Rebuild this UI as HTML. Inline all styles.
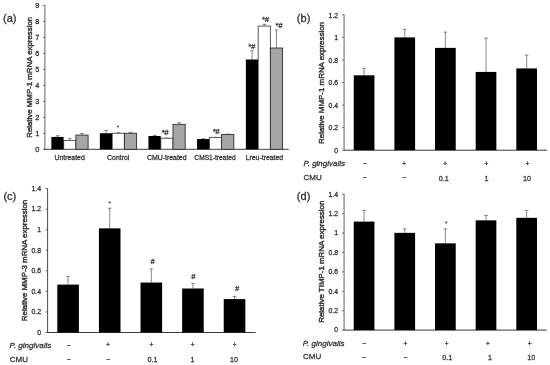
<!DOCTYPE html>
<html lang="en"><head><meta charset="utf-8"><title>Figure</title>
<style>html,body{margin:0;padding:0;background:#fff}body{width:550px;height:365px;overflow:hidden}svg{display:block;filter:blur(0.35px)}text{font-family:'Liberation Sans', Arial, sans-serif;stroke:#303030;stroke-width:0.26px;stroke-linejoin:round}</style>
</head><body>
<svg width="550" height="365" viewBox="0 0 550 365">
<rect width="550" height="365" fill="#fff"/>
<text x="9.70" y="21.50" font-size="11" text-anchor="middle" font-weight="normal" font-style="normal" fill="#303030" style="stroke-width:0.3px">(a)</text>
<text transform="translate(32.00,77.30) rotate(-90)" font-size="8.05" text-anchor="middle" font-weight="normal" fill="#303030" style="stroke-width:0.42px" textLength="121.0" lengthAdjust="spacingAndGlyphs">Relative MMP-1 mRNA expression</text>
<path d="M44.90 5.00V149.30" stroke="#8c8c8c" stroke-width="1.35" fill="none"/>
<path d="M42.90 149.30H44.90" stroke="#3a3a3a" stroke-width="0.7" fill="none"/>
<text x="39.40" y="151.56" font-size="7.4" text-anchor="end" font-weight="normal" font-style="normal" fill="#303030" >0</text>
<path d="M42.90 133.30H44.90" stroke="#3a3a3a" stroke-width="0.7" fill="none"/>
<text x="39.40" y="135.56" font-size="7.4" text-anchor="end" font-weight="normal" font-style="normal" fill="#303030" >1</text>
<path d="M42.90 117.30H44.90" stroke="#3a3a3a" stroke-width="0.7" fill="none"/>
<text x="39.40" y="119.56" font-size="7.4" text-anchor="end" font-weight="normal" font-style="normal" fill="#303030" >2</text>
<path d="M42.90 101.30H44.90" stroke="#3a3a3a" stroke-width="0.7" fill="none"/>
<text x="39.40" y="103.56" font-size="7.4" text-anchor="end" font-weight="normal" font-style="normal" fill="#303030" >3</text>
<path d="M42.90 85.30H44.90" stroke="#3a3a3a" stroke-width="0.7" fill="none"/>
<text x="39.40" y="87.56" font-size="7.4" text-anchor="end" font-weight="normal" font-style="normal" fill="#303030" >4</text>
<path d="M42.90 69.30H44.90" stroke="#3a3a3a" stroke-width="0.7" fill="none"/>
<text x="39.40" y="71.56" font-size="7.4" text-anchor="end" font-weight="normal" font-style="normal" fill="#303030" >5</text>
<path d="M42.90 53.30H44.90" stroke="#3a3a3a" stroke-width="0.7" fill="none"/>
<text x="39.40" y="55.56" font-size="7.4" text-anchor="end" font-weight="normal" font-style="normal" fill="#303030" >6</text>
<path d="M42.90 37.30H44.90" stroke="#3a3a3a" stroke-width="0.7" fill="none"/>
<text x="39.40" y="39.56" font-size="7.4" text-anchor="end" font-weight="normal" font-style="normal" fill="#303030" >7</text>
<path d="M42.90 21.30H44.90" stroke="#3a3a3a" stroke-width="0.7" fill="none"/>
<text x="39.40" y="23.56" font-size="7.4" text-anchor="end" font-weight="normal" font-style="normal" fill="#303030" >8</text>
<path d="M42.90 5.30H44.90" stroke="#3a3a3a" stroke-width="0.7" fill="none"/>
<text x="39.40" y="7.56" font-size="7.4" text-anchor="end" font-weight="normal" font-style="normal" fill="#303030" >9</text>
<path d="M44.00 149.30H288.80" stroke="#3a3a3a" stroke-width="1" fill="none"/>
<path d="M57.60 137.14V135.70M55.80 135.70H59.40" stroke="#555" stroke-width="0.7" fill="none"/>
<path d="M69.80 140.50V138.42M68.00 138.42H71.60" stroke="#555" stroke-width="0.7" fill="none"/>
<path d="M82.00 135.06V133.46M80.20 133.46H83.80" stroke="#555" stroke-width="0.7" fill="none"/>
<rect x="63.70" y="140.50" width="12.20" height="8.80" fill="#fff" stroke="#5a5a5a" stroke-width="1"/>
<rect x="51.35" y="136.94" width="12.25" height="12.36" fill="#000"/>
<rect x="75.90" y="135.06" width="12.20" height="14.24" fill="#a6a6a6" stroke="#2e2e2e" stroke-width="0.9"/>
<path d="M106.10 133.46V130.42M104.30 130.42H107.90" stroke="#555" stroke-width="0.7" fill="none"/>
<path d="M118.30 133.30V132.66M116.50 132.66H120.10" stroke="#555" stroke-width="0.7" fill="none"/>
<path d="M130.50 133.30V132.34M128.70 132.34H132.30" stroke="#555" stroke-width="0.7" fill="none"/>
<rect x="112.20" y="133.30" width="12.20" height="16.00" fill="#fff" stroke="#5a5a5a" stroke-width="1"/>
<rect x="99.85" y="133.26" width="12.25" height="16.04" fill="#000"/>
<rect x="124.40" y="133.30" width="12.20" height="16.00" fill="#a6a6a6" stroke="#2e2e2e" stroke-width="0.9"/>
<path d="M154.70 136.18V135.38M152.90 135.38H156.50" stroke="#555" stroke-width="0.7" fill="none"/>
<path d="M166.90 138.26V138.10M165.10 138.10H168.70" stroke="#555" stroke-width="0.7" fill="none"/>
<path d="M179.10 124.34V122.74M177.30 122.74H180.90" stroke="#555" stroke-width="0.7" fill="none"/>
<rect x="160.80" y="138.26" width="12.20" height="11.04" fill="#fff" stroke="#5a5a5a" stroke-width="1"/>
<rect x="148.45" y="135.98" width="12.25" height="13.32" fill="#000"/>
<rect x="173.00" y="124.34" width="12.20" height="24.96" fill="#a6a6a6" stroke="#2e2e2e" stroke-width="0.9"/>
<path d="M203.30 139.22V138.74M201.50 138.74H205.10" stroke="#555" stroke-width="0.7" fill="none"/>
<path d="M215.50 137.46V137.30M213.70 137.30H217.30" stroke="#555" stroke-width="0.7" fill="none"/>
<path d="M227.70 134.42V134.18M225.90 134.18H229.50" stroke="#555" stroke-width="0.7" fill="none"/>
<rect x="209.40" y="137.46" width="12.20" height="11.84" fill="#fff" stroke="#5a5a5a" stroke-width="1"/>
<rect x="197.05" y="139.02" width="12.25" height="10.28" fill="#000"/>
<rect x="221.60" y="134.42" width="12.20" height="14.88" fill="#a6a6a6" stroke="#2e2e2e" stroke-width="0.9"/>
<path d="M252.10 59.70V50.90M250.30 50.90H253.90" stroke="#555" stroke-width="0.7" fill="none"/>
<path d="M264.30 26.10V24.34M262.50 24.34H266.10" stroke="#555" stroke-width="0.7" fill="none"/>
<path d="M276.50 48.02V29.94M274.70 29.94H278.30" stroke="#555" stroke-width="0.7" fill="none"/>
<rect x="258.20" y="26.10" width="12.20" height="123.20" fill="#fff" stroke="#5a5a5a" stroke-width="1"/>
<rect x="245.85" y="59.50" width="12.25" height="89.80" fill="#000"/>
<rect x="270.40" y="48.02" width="12.20" height="101.28" fill="#a6a6a6" stroke="#2e2e2e" stroke-width="0.9"/>
<text x="69.60" y="159.90" font-size="6.9" text-anchor="middle" font-weight="normal" font-style="normal" fill="#303030" >Untreated</text>
<text x="118.20" y="159.90" font-size="6.9" text-anchor="middle" font-weight="normal" font-style="normal" fill="#303030" >Control</text>
<text x="166.80" y="159.90" font-size="6.9" text-anchor="middle" font-weight="normal" font-style="normal" fill="#303030" >CMU-treated</text>
<text x="215.00" y="159.90" font-size="6.9" text-anchor="middle" font-weight="normal" font-style="normal" fill="#303030" textLength="41.3" lengthAdjust="spacingAndGlyphs">CMS1-treated</text>
<text x="264.40" y="159.90" font-size="6.9" text-anchor="middle" font-weight="normal" font-style="normal" fill="#303030" >Lreu-treated</text>
<text x="118.00" y="129.90" font-size="7.2" text-anchor="middle" font-weight="normal" font-style="normal" fill="#303030" style="stroke-width:0.05px">*</text>
<text x="165.00" y="134.70" font-size="7.6" text-anchor="middle" font-weight="normal" font-style="italic" fill="#303030" >*#</text>
<text x="216.00" y="134.10" font-size="7.6" text-anchor="middle" font-weight="normal" font-style="italic" fill="#303030" >*#</text>
<text x="251.60" y="48.70" font-size="7.6" text-anchor="middle" font-weight="normal" font-style="italic" fill="#303030" >*#</text>
<text x="265.40" y="21.70" font-size="7.6" text-anchor="middle" font-weight="normal" font-style="italic" fill="#303030" >*#</text>
<text x="278.80" y="27.70" font-size="7.6" text-anchor="middle" font-weight="normal" font-style="italic" fill="#303030" >*#</text>
<text x="303.60" y="21.70" font-size="11" text-anchor="middle" font-weight="normal" font-style="normal" fill="#303030" style="stroke-width:0.3px">(b)</text>
<text transform="translate(324.40,83.00) rotate(-90)" font-size="8.05" text-anchor="middle" font-weight="normal" fill="#303030" style="stroke-width:0.42px" textLength="122.0" lengthAdjust="spacingAndGlyphs">Relative MMP-1 mRNA expression</text>
<path d="M344.10 14.54V150.20" stroke="#8c8c8c" stroke-width="1.35" fill="none"/>
<path d="M342.10 150.20H344.10" stroke="#3a3a3a" stroke-width="0.7" fill="none"/>
<text x="338.20" y="152.98" font-size="6.9" text-anchor="end" font-weight="normal" font-style="normal" fill="#303030" >0</text>
<path d="M342.10 127.64H344.10" stroke="#3a3a3a" stroke-width="0.7" fill="none"/>
<text x="338.20" y="130.42" font-size="6.9" text-anchor="end" font-weight="normal" font-style="normal" fill="#303030" >0.2</text>
<path d="M342.10 105.08H344.10" stroke="#3a3a3a" stroke-width="0.7" fill="none"/>
<text x="338.20" y="107.86" font-size="6.9" text-anchor="end" font-weight="normal" font-style="normal" fill="#303030" >0.4</text>
<path d="M342.10 82.52H344.10" stroke="#3a3a3a" stroke-width="0.7" fill="none"/>
<text x="338.20" y="85.30" font-size="6.9" text-anchor="end" font-weight="normal" font-style="normal" fill="#303030" >0.6</text>
<path d="M342.10 59.96H344.10" stroke="#3a3a3a" stroke-width="0.7" fill="none"/>
<text x="338.20" y="62.74" font-size="6.9" text-anchor="end" font-weight="normal" font-style="normal" fill="#303030" >0.8</text>
<path d="M342.10 37.40H344.10" stroke="#3a3a3a" stroke-width="0.7" fill="none"/>
<text x="338.20" y="40.18" font-size="6.9" text-anchor="end" font-weight="normal" font-style="normal" fill="#303030" >1</text>
<path d="M342.10 14.84H344.10" stroke="#3a3a3a" stroke-width="0.7" fill="none"/>
<text x="338.20" y="17.62" font-size="6.9" text-anchor="end" font-weight="normal" font-style="normal" fill="#303030" >1.2</text>
<path d="M343.90 150.20H547.00" stroke="#3a3a3a" stroke-width="1" fill="none"/>
<path d="M364.10 75.30V68.31M362.30 68.31H365.90" stroke="#555" stroke-width="0.7" fill="none"/>
<rect x="353.75" y="75.30" width="20.70" height="74.90" fill="#000"/>
<path d="M404.74 37.40V29.28M402.94 29.28H406.54" stroke="#555" stroke-width="0.7" fill="none"/>
<rect x="394.39" y="37.40" width="20.70" height="112.80" fill="#000"/>
<path d="M445.38 47.89V32.10M443.58 32.10H447.18" stroke="#555" stroke-width="0.7" fill="none"/>
<rect x="435.03" y="47.89" width="20.70" height="102.31" fill="#000"/>
<path d="M486.02 71.92V38.08M484.22 38.08H487.82" stroke="#555" stroke-width="0.7" fill="none"/>
<rect x="475.67" y="71.92" width="20.70" height="78.28" fill="#000"/>
<path d="M526.66 68.42V55.11M524.86 55.11H528.46" stroke="#555" stroke-width="0.7" fill="none"/>
<rect x="516.31" y="68.42" width="20.70" height="81.78" fill="#000"/>
<text x="303.40" y="166.10" font-size="8" text-anchor="start" font-weight="normal" font-style="italic" fill="#303030" >P. gingivalis</text>
<text x="303.60" y="180.00" font-size="8" text-anchor="start" font-weight="normal" font-style="normal" fill="#303030" >CMU</text>
<text x="364.60" y="166.25" font-size="7" text-anchor="middle" font-weight="normal" font-style="normal" fill="#303030" >−</text>
<text x="364.60" y="180.35" font-size="7" text-anchor="middle" font-weight="normal" font-style="normal" fill="#303030" >−</text>
<text x="404.20" y="166.05" font-size="6.5" text-anchor="middle" font-weight="normal" font-style="normal" fill="#303030" >+</text>
<text x="404.20" y="180.35" font-size="7" text-anchor="middle" font-weight="normal" font-style="normal" fill="#303030" >−</text>
<text x="445.20" y="166.05" font-size="6.5" text-anchor="middle" font-weight="normal" font-style="normal" fill="#303030" >+</text>
<text x="443.70" y="180.50" font-size="7.2" text-anchor="middle" font-weight="normal" font-style="normal" fill="#303030" >0.1</text>
<text x="486.50" y="166.05" font-size="6.5" text-anchor="middle" font-weight="normal" font-style="normal" fill="#303030" >+</text>
<text x="486.40" y="180.50" font-size="7.2" text-anchor="middle" font-weight="normal" font-style="normal" fill="#303030" >1</text>
<text x="527.50" y="166.05" font-size="6.5" text-anchor="middle" font-weight="normal" font-style="normal" fill="#303030" >+</text>
<text x="527.10" y="180.50" font-size="7.2" text-anchor="middle" font-weight="normal" font-style="normal" fill="#303030" >10</text>
<text x="9.80" y="199.70" font-size="11" text-anchor="middle" font-weight="normal" font-style="normal" fill="#303030" style="stroke-width:0.3px">(c)</text>
<text transform="translate(27.20,260.50) rotate(-90)" font-size="8.05" text-anchor="middle" font-weight="normal" fill="#303030" style="stroke-width:0.42px" textLength="121.4" lengthAdjust="spacingAndGlyphs">Relative MMP-3 mRNA expression</text>
<path d="M47.60 188.28V332.50" stroke="#4a4a4a" stroke-width="1.0" fill="none"/>
<path d="M45.60 332.50H47.60" stroke="#3a3a3a" stroke-width="0.7" fill="none"/>
<text x="41.10" y="334.78" font-size="6.9" text-anchor="end" font-weight="normal" font-style="normal" fill="#303030" >0</text>
<path d="M45.60 311.94H47.60" stroke="#3a3a3a" stroke-width="0.7" fill="none"/>
<text x="41.10" y="314.22" font-size="6.9" text-anchor="end" font-weight="normal" font-style="normal" fill="#303030" >0.2</text>
<path d="M45.60 291.38H47.60" stroke="#3a3a3a" stroke-width="0.7" fill="none"/>
<text x="41.10" y="293.66" font-size="6.9" text-anchor="end" font-weight="normal" font-style="normal" fill="#303030" >0.4</text>
<path d="M45.60 270.82H47.60" stroke="#3a3a3a" stroke-width="0.7" fill="none"/>
<text x="41.10" y="273.10" font-size="6.9" text-anchor="end" font-weight="normal" font-style="normal" fill="#303030" >0.6</text>
<path d="M45.60 250.26H47.60" stroke="#3a3a3a" stroke-width="0.7" fill="none"/>
<text x="41.10" y="252.54" font-size="6.9" text-anchor="end" font-weight="normal" font-style="normal" fill="#303030" >0.8</text>
<path d="M45.60 229.70H47.60" stroke="#3a3a3a" stroke-width="0.7" fill="none"/>
<text x="41.10" y="231.98" font-size="6.9" text-anchor="end" font-weight="normal" font-style="normal" fill="#303030" >1</text>
<path d="M45.60 209.14H47.60" stroke="#3a3a3a" stroke-width="0.7" fill="none"/>
<text x="41.10" y="211.42" font-size="6.9" text-anchor="end" font-weight="normal" font-style="normal" fill="#303030" >1.2</text>
<path d="M45.60 188.58H47.60" stroke="#3a3a3a" stroke-width="0.7" fill="none"/>
<text x="41.10" y="190.86" font-size="6.9" text-anchor="end" font-weight="normal" font-style="normal" fill="#303030" >1.4</text>
<path d="M46.70 332.50H255.60" stroke="#3a3a3a" stroke-width="1" fill="none"/>
<path d="M68.10 284.60V276.47M66.30 276.47H69.90" stroke="#555" stroke-width="0.7" fill="none"/>
<rect x="57.30" y="284.60" width="21.60" height="47.90" fill="#000"/>
<path d="M109.71 228.36V208.21M107.91 208.21H111.51" stroke="#555" stroke-width="0.7" fill="none"/>
<rect x="98.91" y="228.36" width="21.60" height="104.14" fill="#000"/>
<path d="M151.32 282.54V268.97M149.52 268.97H153.12" stroke="#555" stroke-width="0.7" fill="none"/>
<rect x="140.52" y="282.54" width="21.60" height="49.96" fill="#000"/>
<path d="M192.93 288.50V283.46M191.13 283.46H194.73" stroke="#555" stroke-width="0.7" fill="none"/>
<rect x="182.13" y="288.50" width="21.60" height="44.00" fill="#000"/>
<path d="M234.54 299.09V296.52M232.74 296.52H236.34" stroke="#555" stroke-width="0.7" fill="none"/>
<rect x="223.74" y="299.09" width="21.60" height="33.41" fill="#000"/>
<text x="9.60" y="348.40" font-size="8" text-anchor="start" font-weight="normal" font-style="italic" fill="#303030" >P. gingivalis</text>
<text x="9.80" y="362.20" font-size="8" text-anchor="start" font-weight="normal" font-style="normal" fill="#303030" >CMU</text>
<text x="68.60" y="347.55" font-size="7" text-anchor="middle" font-weight="normal" font-style="normal" fill="#303030" >−</text>
<text x="68.60" y="361.75" font-size="7" text-anchor="middle" font-weight="normal" font-style="normal" fill="#303030" >−</text>
<text x="108.00" y="347.35" font-size="6.5" text-anchor="middle" font-weight="normal" font-style="normal" fill="#303030" >+</text>
<text x="108.00" y="361.75" font-size="7" text-anchor="middle" font-weight="normal" font-style="normal" fill="#303030" >−</text>
<text x="151.40" y="347.35" font-size="6.5" text-anchor="middle" font-weight="normal" font-style="normal" fill="#303030" >+</text>
<text x="152.40" y="361.90" font-size="7.2" text-anchor="middle" font-weight="normal" font-style="normal" fill="#303030" >0.1</text>
<text x="192.60" y="347.35" font-size="6.5" text-anchor="middle" font-weight="normal" font-style="normal" fill="#303030" >+</text>
<text x="192.60" y="361.90" font-size="7.2" text-anchor="middle" font-weight="normal" font-style="normal" fill="#303030" >1</text>
<text x="234.60" y="347.35" font-size="6.5" text-anchor="middle" font-weight="normal" font-style="normal" fill="#303030" >+</text>
<text x="234.00" y="361.90" font-size="7.2" text-anchor="middle" font-weight="normal" font-style="normal" fill="#303030" >10</text>
<text x="109.60" y="205.70" font-size="7.4" text-anchor="middle" font-weight="normal" font-style="normal" fill="#303030" style="stroke-width:0.05px">*</text>
<text x="152.60" y="263.80" font-size="7.4" text-anchor="middle" font-weight="normal" font-style="italic" fill="#303030" >#</text>
<text x="193.40" y="278.90" font-size="7.4" text-anchor="middle" font-weight="normal" font-style="italic" fill="#303030" >#</text>
<text x="237.10" y="291.10" font-size="7.4" text-anchor="middle" font-weight="normal" font-style="italic" fill="#303030" >#</text>
<text x="303.60" y="199.70" font-size="11" text-anchor="middle" font-weight="normal" font-style="normal" fill="#303030" style="stroke-width:0.3px">(d)</text>
<text transform="translate(324.40,261.70) rotate(-90)" font-size="8.05" text-anchor="middle" font-weight="normal" fill="#303030" style="stroke-width:0.42px" textLength="122.2" lengthAdjust="spacingAndGlyphs">Relative TIMP-1 mRNA expression</text>
<path d="M344.10 193.93V330.10" stroke="#8c8c8c" stroke-width="1.35" fill="none"/>
<path d="M342.10 330.10H344.10" stroke="#3a3a3a" stroke-width="0.7" fill="none"/>
<text x="338.00" y="332.48" font-size="6.9" text-anchor="end" font-weight="normal" font-style="normal" fill="#303030" >0</text>
<path d="M342.10 310.69H344.10" stroke="#3a3a3a" stroke-width="0.7" fill="none"/>
<text x="338.00" y="313.07" font-size="6.9" text-anchor="end" font-weight="normal" font-style="normal" fill="#303030" >0.2</text>
<path d="M342.10 291.28H344.10" stroke="#3a3a3a" stroke-width="0.7" fill="none"/>
<text x="338.00" y="293.66" font-size="6.9" text-anchor="end" font-weight="normal" font-style="normal" fill="#303030" >0.4</text>
<path d="M342.10 271.87H344.10" stroke="#3a3a3a" stroke-width="0.7" fill="none"/>
<text x="338.00" y="274.25" font-size="6.9" text-anchor="end" font-weight="normal" font-style="normal" fill="#303030" >0.6</text>
<path d="M342.10 252.46H344.10" stroke="#3a3a3a" stroke-width="0.7" fill="none"/>
<text x="338.00" y="254.84" font-size="6.9" text-anchor="end" font-weight="normal" font-style="normal" fill="#303030" >0.8</text>
<path d="M342.10 233.05H344.10" stroke="#3a3a3a" stroke-width="0.7" fill="none"/>
<text x="338.00" y="235.43" font-size="6.9" text-anchor="end" font-weight="normal" font-style="normal" fill="#303030" >1</text>
<path d="M342.10 213.64H344.10" stroke="#3a3a3a" stroke-width="0.7" fill="none"/>
<text x="338.00" y="216.02" font-size="6.9" text-anchor="end" font-weight="normal" font-style="normal" fill="#303030" >1.2</text>
<path d="M342.10 194.23H344.10" stroke="#3a3a3a" stroke-width="0.7" fill="none"/>
<text x="338.00" y="196.61" font-size="6.9" text-anchor="end" font-weight="normal" font-style="normal" fill="#303030" >1.4</text>
<path d="M343.30 330.10H546.80" stroke="#3a3a3a" stroke-width="1" fill="none"/>
<path d="M364.10 221.60V210.34M362.30 210.34H365.90" stroke="#555" stroke-width="0.7" fill="none"/>
<rect x="353.75" y="221.60" width="20.70" height="108.50" fill="#000"/>
<path d="M404.74 232.86V228.88M402.94 228.88H406.54" stroke="#555" stroke-width="0.7" fill="none"/>
<rect x="394.39" y="232.86" width="20.70" height="97.24" fill="#000"/>
<path d="M445.38 243.34V228.88M443.58 228.88H447.18" stroke="#555" stroke-width="0.7" fill="none"/>
<rect x="435.03" y="243.34" width="20.70" height="86.76" fill="#000"/>
<path d="M486.02 220.34V215.39M484.22 215.39H487.82" stroke="#555" stroke-width="0.7" fill="none"/>
<rect x="475.67" y="220.34" width="20.70" height="109.76" fill="#000"/>
<path d="M526.66 217.81V210.34M524.86 210.34H528.46" stroke="#555" stroke-width="0.7" fill="none"/>
<rect x="516.31" y="217.81" width="20.70" height="112.29" fill="#000"/>
<text x="302.80" y="345.60" font-size="8" text-anchor="start" font-weight="normal" font-style="italic" fill="#303030" >P. gingivalis</text>
<text x="303.00" y="359.20" font-size="8" text-anchor="start" font-weight="normal" font-style="normal" fill="#303030" >CMU</text>
<text x="364.00" y="345.95" font-size="7" text-anchor="middle" font-weight="normal" font-style="normal" fill="#303030" >−</text>
<text x="364.00" y="359.65" font-size="7" text-anchor="middle" font-weight="normal" font-style="normal" fill="#303030" >−</text>
<text x="405.30" y="345.75" font-size="6.5" text-anchor="middle" font-weight="normal" font-style="normal" fill="#303030" >+</text>
<text x="405.20" y="359.65" font-size="7" text-anchor="middle" font-weight="normal" font-style="normal" fill="#303030" >−</text>
<text x="446.60" y="345.75" font-size="6.5" text-anchor="middle" font-weight="normal" font-style="normal" fill="#303030" >+</text>
<text x="447.20" y="359.80" font-size="7.2" text-anchor="middle" font-weight="normal" font-style="normal" fill="#303030" >0.1</text>
<text x="488.00" y="345.75" font-size="6.5" text-anchor="middle" font-weight="normal" font-style="normal" fill="#303030" >+</text>
<text x="490.00" y="359.80" font-size="7.2" text-anchor="middle" font-weight="normal" font-style="normal" fill="#303030" >1</text>
<text x="529.70" y="345.75" font-size="6.5" text-anchor="middle" font-weight="normal" font-style="normal" fill="#303030" >+</text>
<text x="531.20" y="359.80" font-size="7.2" text-anchor="middle" font-weight="normal" font-style="normal" fill="#303030" >10</text>
<text x="446.10" y="226.20" font-size="7.4" text-anchor="middle" font-weight="normal" font-style="normal" fill="#303030" style="stroke-width:0.05px">*</text>
</svg>
</body></html>
